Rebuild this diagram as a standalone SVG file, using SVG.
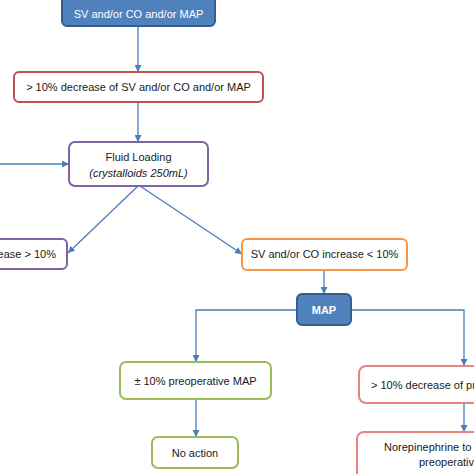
<svg xmlns="http://www.w3.org/2000/svg" width="474" height="474" viewBox="0 0 474 474">
<defs>
<marker id="ah" viewBox="0 0 8 8" refX="8" refY="4" markerWidth="7" markerHeight="7" markerUnits="userSpaceOnUse" orient="auto">
<path d="M0,0 L8,4 L0,8 Z" fill="#4A7EBB"/>
</marker>
<style>
.box{fill:#fff;stroke-width:2}
.blue{fill:#4F81BD;stroke:#385D8A;stroke-width:2}
.t{font-family:"Liberation Sans",Arial,sans-serif;font-size:11px;fill:#1a1a1a}
.w{font-family:"Liberation Sans",Arial,sans-serif;font-size:11px;fill:#fff}
.c{text-anchor:middle}
.con{fill:none;stroke:#4A7EBB;stroke-width:1.3;marker-end:url(#ah)}
</style>
</defs>
<rect width="474" height="474" fill="#fff"/>
<g id="connectors">
<path class="con" d="M138,26 V72"/>
<path class="con" d="M138,102 V142"/>
<path class="con" d="M0,164 H69"/>
<path class="con" d="M138,186 L68,253"/>
<path class="con" d="M140,186 L242,254"/>
<path class="con" d="M324,270 V294"/>
<path class="con" d="M297,310 H196 V362"/>
<path class="con" d="M351,310 H464 V366"/>
<path class="con" d="M196,399 V437"/>
<path class="con" d="M464,403 V432"/>
</g>
<g id="n-top">
<rect class="blue" x="62" y="-6" width="153" height="32" rx="5"/>
<text class="w c" x="138.5" y="18">SV and/or CO and/or MAP</text>
</g>
<g id="n-decrease">
<rect class="box" x="14" y="72" width="249" height="30" rx="5" stroke="#C0504D"/>
<text class="t c" x="138.5" y="91">&gt; 10% decrease of SV  and/or CO and/or MAP</text>
</g>
<g id="n-fluid">
<rect class="box" x="69" y="142" width="139" height="44" rx="6" stroke="#8064A2"/>
<text class="t c" x="138.5" y="161">Fluid Loading</text>
<text class="t c" x="138.5" y="177" font-style="italic">(crystalloids 250mL)</text>
</g>
<g id="n-left">
<rect class="box" x="-100" y="239" width="167" height="30" rx="5" stroke="#8064A2"/>
<text class="t" x="56" y="258" text-anchor="end">SV and/or CO increase &gt; 10%</text>
</g>
<g id="n-right">
<rect class="box" x="242" y="239" width="165" height="31" rx="5" stroke="#F79646"/>
<text class="t c" x="324.5" y="258">SV and/or CO increase &lt; 10%</text>
</g>
<g id="n-map">
<rect class="blue" x="297" y="294" width="54" height="31" rx="5"/>
<text class="w c" x="324" y="314" font-weight="bold">MAP</text>
</g>
<g id="n-pm">
<rect class="box" x="120" y="362" width="151" height="37" rx="6" stroke="#9BBB59"/>
<text class="t c" x="195.5" y="385">± 10% preoperative MAP</text>
</g>
<g id="n-noaction">
<rect class="box" x="152" y="437" width="86" height="31" rx="6" stroke="#9BBB59"/>
<text class="t c" x="195" y="457">No action</text>
</g>
<g id="n-dec-map">
<rect class="box" x="359" y="366" width="150" height="37" rx="7" stroke="#E8837F"/>
<text class="t" x="371" y="389">&gt; 10% decrease of preoperative MAP</text>
</g>
<g id="n-nor">
<rect class="box" x="357" y="432" width="150" height="55" rx="7" stroke="#E8837F"/>
<text class="t" x="384" y="451">Norepinephrine to</text>
<text class="t" x="419" y="466">preoperative</text>
</g>
</svg>
